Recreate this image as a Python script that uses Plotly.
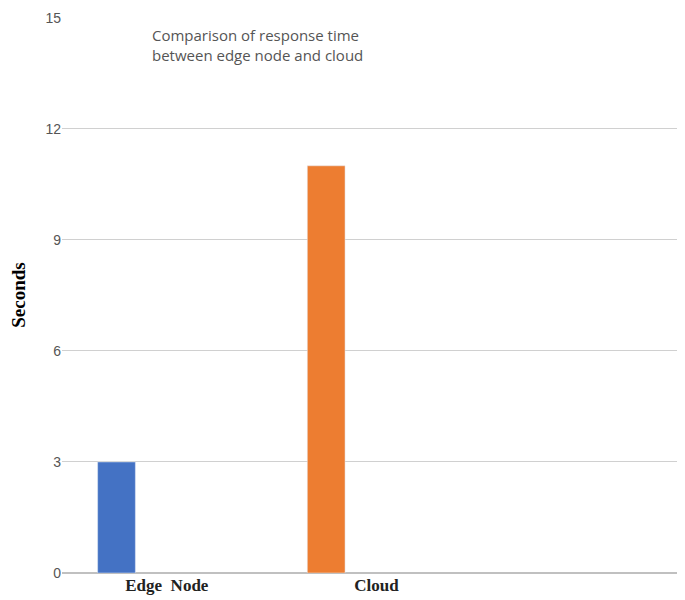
import plotly.graph_objects as go

categories = ["Edge Node", "Cloud", " "]
edge_values = [3, None, None]
cloud_values = [None, 11, None]
y_ticks = [0, 3, 6, 9, 12, 15]

fig = go.Figure()
fig.add_bar(x=categories, y=edge_values, marker_color="#4472C4", width=0.18, offset=-0.33)
fig.add_bar(x=categories, y=cloud_values, marker_color="#ED7D31", width=0.18, offset=-0.33)

fig.update_layout(
    width=685, height=600, showlegend=False, barmode="overlay",
    plot_bgcolor="white", paper_bgcolor="white",
    margin=dict(l=54, r=2, t=9, b=35),
    annotations=[dict(text="Comparison of response time<br>between edge node and cloud",
                      xref="paper", yref="paper", x=0.14, y=0.99, xanchor="left", yanchor="top",
                      showarrow=False, align="left",
                      font=dict(family="Open Sans", size=15, color="#555"))],
)
fig.update_yaxes(range=[0, 15.02], tickvals=y_ticks, showgrid=True, gridcolor="#d0d0d0",
                 zeroline=True, zerolinecolor="#c0c0c0", ticks="",
                 tickfont=dict(family="Liberation Sans", size=14, color="#555"),
                 title=dict(text="<b>Seconds</b>", font=dict(family="Liberation Serif", size=19, color="black"), standoff=20))
fig.update_xaxes(tickfont=dict(family="Liberation Serif", size=17, color="#222"),
                 ticktext=["<b>Edge  Node</b>", "<b>Cloud</b>", " "], tickvals=categories,
                 showline=False, showgrid=False)
fig.write_html("out.html")
